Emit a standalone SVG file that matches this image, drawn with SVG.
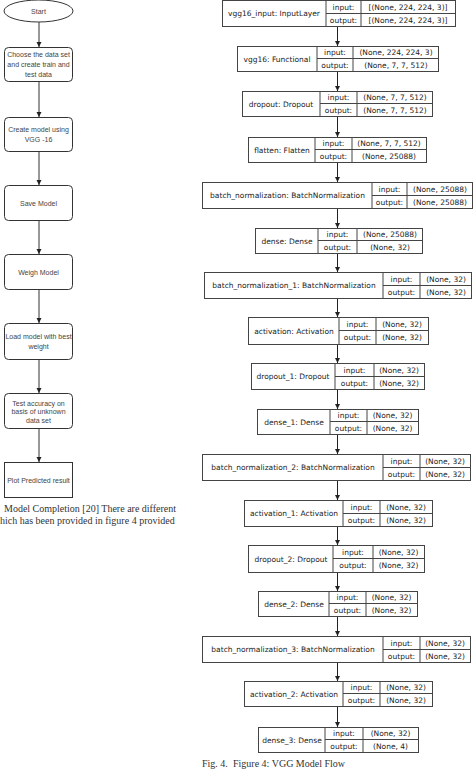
<svg xmlns="http://www.w3.org/2000/svg" width="474" height="770" viewBox="0 0 474 770">
<style>
.fb{fill:#fff;stroke:#333;stroke-width:1}
.ft{font-family:"Liberation Sans",Arial,sans-serif;font-size:7px;fill:#444;text-anchor:middle}
.kb{fill:#fff;stroke:#444;stroke-width:1}
.kl{stroke:#444;stroke-width:1}
.kt{font-family:"DejaVu Sans",sans-serif;font-size:7.5px;fill:#222;text-anchor:middle}
.c{stroke:#333;stroke-width:1;fill:none}
.ck{stroke:#222;stroke-width:1;fill:none}
.serif{font-family:"Liberation Serif","Times New Roman",serif;font-size:10px;fill:#333}
</style>
<defs>
<marker id="ah" markerUnits="userSpaceOnUse" markerWidth="6" markerHeight="6" refX="5" refY="3" orient="auto"><path d="M0,0.5 L5,3 L0,5.5 z" fill="#222"/></marker>
</defs>
<rect width="474" height="770" fill="#fff"/>
<g id="connectors">
<line class="c" x1="39" y1="22" x2="39" y2="47" marker-end="url(#ah)"/>
<line class="c" x1="39" y1="81" x2="39" y2="117" marker-end="url(#ah)"/>
<line class="c" x1="39" y1="151" x2="39" y2="185" marker-end="url(#ah)"/>
<line class="c" x1="39" y1="220" x2="39" y2="254" marker-end="url(#ah)"/>
<line class="c" x1="39" y1="289" x2="39" y2="323" marker-end="url(#ah)"/>
<line class="c" x1="39" y1="359" x2="39" y2="393" marker-end="url(#ah)"/>
<line class="c" x1="39" y1="428" x2="39" y2="462" marker-end="url(#ah)"/>
<line class="ck" x1="337.5" y1="26" x2="337.5" y2="46" marker-end="url(#ah)"/>
<line class="ck" x1="337.5" y1="71" x2="337.5" y2="91" marker-end="url(#ah)"/>
<line class="ck" x1="337.5" y1="116" x2="337.5" y2="137" marker-end="url(#ah)"/>
<line class="ck" x1="337.5" y1="162" x2="337.5" y2="182" marker-end="url(#ah)"/>
<line class="ck" x1="337.5" y1="208" x2="337.5" y2="228" marker-end="url(#ah)"/>
<line class="ck" x1="337.5" y1="253" x2="337.5" y2="272" marker-end="url(#ah)"/>
<line class="ck" x1="337.5" y1="298" x2="337.5" y2="317" marker-end="url(#ah)"/>
<line class="ck" x1="337.5" y1="344" x2="337.5" y2="363" marker-end="url(#ah)"/>
<line class="ck" x1="337.5" y1="389" x2="337.5" y2="409" marker-end="url(#ah)"/>
<line class="ck" x1="337.5" y1="434" x2="337.5" y2="454" marker-end="url(#ah)"/>
<line class="ck" x1="337.5" y1="480" x2="337.5" y2="500" marker-end="url(#ah)"/>
<line class="ck" x1="337.5" y1="526" x2="337.5" y2="545" marker-end="url(#ah)"/>
<line class="ck" x1="337.5" y1="572" x2="337.5" y2="591" marker-end="url(#ah)"/>
<line class="ck" x1="337.5" y1="616" x2="337.5" y2="636" marker-end="url(#ah)"/>
<line class="ck" x1="337.5" y1="662" x2="337.5" y2="681" marker-end="url(#ah)"/>
<line class="ck" x1="337.5" y1="706" x2="337.5" y2="727" marker-end="url(#ah)"/>
</g>
<g id="f-start"><ellipse class="fb" cx="38.5" cy="11" rx="34.5" ry="11"/><text class="ft" x="38.5" y="13.5">Start</text></g>
<g id="f-choose"><rect class="fb" x="4.5" y="47.5" width="68" height="34" rx="4"/><text class="ft" x="38.5" y="56.5">Choose the data set</text><text class="ft" x="38.5" y="66.5">and create train and</text><text class="ft" x="38.5" y="76.5">test data</text></g>
<g id="f-create"><rect class="fb" x="4.5" y="117.5" width="68" height="34" rx="4"/><text class="ft" x="38.5" y="131.5">Create model using</text><text class="ft" x="38.5" y="141.5">VGG -16</text></g>
<g id="f-save"><rect class="fb" x="4.5" y="185.5" width="68" height="35" rx="4"/><text class="ft" x="38.5" y="205.5">Save Model</text></g>
<g id="f-weigh"><rect class="fb" x="4.5" y="254.5" width="68" height="35" rx="4"/><text class="ft" x="38.5" y="274.5">Weigh Model</text></g>
<g id="f-load"><rect class="fb" x="4.5" y="323.5" width="68" height="36" rx="4"/><text class="ft" x="38.5" y="338.5">Load model with best</text><text class="ft" x="38.5" y="348.5">weight</text></g>
<g id="f-test"><rect class="fb" x="4.5" y="393.5" width="68" height="35" rx="4"/><text class="ft" x="38.5" y="405.5">Test accuracy on</text><text class="ft" x="38.5" y="414">basis of unknown</text><text class="ft" x="38.5" y="422.5">data set</text></g>
<g id="f-plot"><rect class="fb" x="4.5" y="462.5" width="68" height="35"/><text class="ft" x="38.5" y="482.5">Plot Predicted result</text></g>
<text class="serif" x="4" y="512">Model Completion [20] There are different</text>
<text class="serif" x="0" y="524">hich has been provided in figure 4 provided</text>

<g id="k1"><rect class="kb" x="222.5" y="0.5" width="233" height="26"/><line class="kl" x1="326" y1="0.5" x2="326" y2="26.5"/><line class="kl" x1="361" y1="0.5" x2="361" y2="26.5"/><line class="kl" x1="326" y1="13.5" x2="455.5" y2="13.5"/><text class="kt" x="274" y="16">vgg16_input: InputLayer</text><text class="kt" x="343.5" y="9.5">input:</text><text class="kt" x="343.5" y="22.5">output:</text><text class="kt" x="408" y="9.5">[(None, 224, 224, 3)]</text><text class="kt" x="408" y="22.5">[(None, 224, 224, 3)]</text></g>
<g id="k2"><rect class="kb" x="237.5" y="46.5" width="201" height="25"/><line class="kl" x1="317" y1="46.5" x2="317" y2="71.5"/><line class="kl" x1="353" y1="46.5" x2="353" y2="71.5"/><line class="kl" x1="317" y1="58.5" x2="438.5" y2="58.5"/><text class="kt" x="277" y="61.5">vgg16: Functional</text><text class="kt" x="335" y="55">input:</text><text class="kt" x="335" y="67.5">output:</text><text class="kt" x="396" y="55">(None, 224, 224, 3)</text><text class="kt" x="396" y="67.5">(None, 7, 7, 512)</text></g>
<g id="k3"><rect class="kb" x="242.5" y="91.5" width="190" height="25"/><line class="kl" x1="320" y1="91.5" x2="320" y2="116.5"/><line class="kl" x1="357" y1="91.5" x2="357" y2="116.5"/><line class="kl" x1="320" y1="103.5" x2="432.5" y2="103.5"/><text class="kt" x="281" y="106.5">dropout: Dropout</text><text class="kt" x="338.5" y="100">input:</text><text class="kt" x="338.5" y="112.5">output:</text><text class="kt" x="395" y="100">(None, 7, 7, 512)</text><text class="kt" x="395" y="112.5">(None, 7, 7, 512)</text></g>
<g id="k4"><rect class="kb" x="248.5" y="137.5" width="178" height="25"/><line class="kl" x1="315" y1="137.5" x2="315" y2="162.5"/><line class="kl" x1="352" y1="137.5" x2="352" y2="162.5"/><line class="kl" x1="315" y1="149.5" x2="426.5" y2="149.5"/><text class="kt" x="282" y="152.5">flatten: Flatten</text><text class="kt" x="333.5" y="146">input:</text><text class="kt" x="333.5" y="158.5">output:</text><text class="kt" x="389" y="146">(None, 7, 7, 512)</text><text class="kt" x="389" y="158.5">(None, 25088)</text></g>
<g id="k5"><rect class="kb" x="202.5" y="182.5" width="270" height="26"/><line class="kl" x1="372" y1="182.5" x2="372" y2="208.5"/><line class="kl" x1="407" y1="182.5" x2="407" y2="208.5"/><line class="kl" x1="372" y1="195.5" x2="472.5" y2="195.5"/><text class="kt" x="287.5" y="198">batch_normalization: BatchNormalization</text><text class="kt" x="389.5" y="191.5">input:</text><text class="kt" x="389.5" y="204.5">output:</text><text class="kt" x="440" y="191.5">(None, 25088)</text><text class="kt" x="440" y="204.5">(None, 25088)</text></g>
<g id="k6"><rect class="kb" x="255.5" y="228.5" width="167" height="25"/><line class="kl" x1="318" y1="228.5" x2="318" y2="253.5"/><line class="kl" x1="357" y1="228.5" x2="357" y2="253.5"/><line class="kl" x1="318" y1="240.5" x2="422.5" y2="240.5"/><text class="kt" x="287" y="243.5">dense: Dense</text><text class="kt" x="337.5" y="237">input:</text><text class="kt" x="337.5" y="249.5">output:</text><text class="kt" x="390" y="237">(None, 25088)</text><text class="kt" x="390" y="249.5">(None, 32)</text></g>
<g id="k7"><rect class="kb" x="204.5" y="272.5" width="267" height="26"/><line class="kl" x1="383" y1="272.5" x2="383" y2="298.5"/><line class="kl" x1="420" y1="272.5" x2="420" y2="298.5"/><line class="kl" x1="383" y1="285.5" x2="471.5" y2="285.5"/><text class="kt" x="294" y="288">batch_normalization_1: BatchNormalization</text><text class="kt" x="401.5" y="281.5">input:</text><text class="kt" x="401.5" y="294.5">output:</text><text class="kt" x="446" y="281.5">(None, 32)</text><text class="kt" x="446" y="294.5">(None, 32)</text></g>
<g id="k8"><rect class="kb" x="248.5" y="317.5" width="180" height="27"/><line class="kl" x1="339" y1="317.5" x2="339" y2="344.5"/><line class="kl" x1="376" y1="317.5" x2="376" y2="344.5"/><line class="kl" x1="339" y1="330.5" x2="428.5" y2="330.5"/><text class="kt" x="294" y="333.5">activation: Activation</text><text class="kt" x="357.5" y="326.5">input:</text><text class="kt" x="357.5" y="340">output:</text><text class="kt" x="402" y="326.5">(None, 32)</text><text class="kt" x="402" y="340">(None, 32)</text></g>
<g id="k9"><rect class="kb" x="251.5" y="363.5" width="173" height="26"/><line class="kl" x1="335" y1="363.5" x2="335" y2="389.5"/><line class="kl" x1="374" y1="363.5" x2="374" y2="389.5"/><line class="kl" x1="335" y1="376.5" x2="424.5" y2="376.5"/><text class="kt" x="293" y="379">dropout_1: Dropout</text><text class="kt" x="354.5" y="372.5">input:</text><text class="kt" x="354.5" y="385.5">output:</text><text class="kt" x="399" y="372.5">(None, 32)</text><text class="kt" x="399" y="385.5">(None, 32)</text></g>
<g id="k10"><rect class="kb" x="257.5" y="409.5" width="161" height="25"/><line class="kl" x1="330" y1="409.5" x2="330" y2="434.5"/><line class="kl" x1="367" y1="409.5" x2="367" y2="434.5"/><line class="kl" x1="330" y1="421.5" x2="418.5" y2="421.5"/><text class="kt" x="294" y="424.5">dense_1: Dense</text><text class="kt" x="348.5" y="418">input:</text><text class="kt" x="348.5" y="430.5">output:</text><text class="kt" x="392.5" y="418">(None, 32)</text><text class="kt" x="392.5" y="430.5">(None, 32)</text></g>
<g id="k11"><rect class="kb" x="202.5" y="454.5" width="268" height="26"/><line class="kl" x1="383" y1="454.5" x2="383" y2="480.5"/><line class="kl" x1="420" y1="454.5" x2="420" y2="480.5"/><line class="kl" x1="383" y1="467.5" x2="470.5" y2="467.5"/><text class="kt" x="293" y="470">batch_normalization_2: BatchNormalization</text><text class="kt" x="401.5" y="463.5">input:</text><text class="kt" x="401.5" y="476.5">output:</text><text class="kt" x="445" y="463.5">(None, 32)</text><text class="kt" x="445" y="476.5">(None, 32)</text></g>
<g id="k12"><rect class="kb" x="244.5" y="500.5" width="188" height="26"/><line class="kl" x1="343" y1="500.5" x2="343" y2="526.5"/><line class="kl" x1="380" y1="500.5" x2="380" y2="526.5"/><line class="kl" x1="343" y1="513.5" x2="432.5" y2="513.5"/><text class="kt" x="294" y="516">activation_1: Activation</text><text class="kt" x="361.5" y="509.5">input:</text><text class="kt" x="361.5" y="522.5">output:</text><text class="kt" x="406" y="509.5">(None, 32)</text><text class="kt" x="406" y="522.5">(None, 32)</text></g>
<g id="k13"><rect class="kb" x="248.5" y="545.5" width="176" height="27"/><line class="kl" x1="333" y1="545.5" x2="333" y2="572.5"/><line class="kl" x1="373" y1="545.5" x2="373" y2="572.5"/><line class="kl" x1="333" y1="558.5" x2="424.5" y2="558.5"/><text class="kt" x="291" y="561.5">dropout_2: Dropout</text><text class="kt" x="353" y="554.5">input:</text><text class="kt" x="353" y="568">output:</text><text class="kt" x="398.5" y="554.5">(None, 32)</text><text class="kt" x="398.5" y="568">(None, 32)</text></g>
<g id="k14"><rect class="kb" x="258.5" y="591.5" width="159" height="25"/><line class="kl" x1="329" y1="591.5" x2="329" y2="616.5"/><line class="kl" x1="366" y1="591.5" x2="366" y2="616.5"/><line class="kl" x1="329" y1="603.5" x2="417.5" y2="603.5"/><text class="kt" x="294" y="606.5">dense_2: Dense</text><text class="kt" x="347.5" y="600">input:</text><text class="kt" x="347.5" y="612.5">output:</text><text class="kt" x="391.5" y="600">(None, 32)</text><text class="kt" x="391.5" y="612.5">(None, 32)</text></g>
<g id="k15"><rect class="kb" x="202.5" y="636.5" width="268" height="26"/><line class="kl" x1="383" y1="636.5" x2="383" y2="662.5"/><line class="kl" x1="420" y1="636.5" x2="420" y2="662.5"/><line class="kl" x1="383" y1="649.5" x2="470.5" y2="649.5"/><text class="kt" x="293" y="652">batch_normalization_3: BatchNormalization</text><text class="kt" x="401.5" y="645.5">input:</text><text class="kt" x="401.5" y="658.5">output:</text><text class="kt" x="445" y="645.5">(None, 32)</text><text class="kt" x="445" y="658.5">(None, 32)</text></g>
<g id="k16"><rect class="kb" x="244.5" y="681.5" width="188" height="25"/><line class="kl" x1="343" y1="681.5" x2="343" y2="706.5"/><line class="kl" x1="380" y1="681.5" x2="380" y2="706.5"/><line class="kl" x1="343" y1="693.5" x2="432.5" y2="693.5"/><text class="kt" x="294" y="696.5">activation_2: Activation</text><text class="kt" x="361.5" y="690">input:</text><text class="kt" x="361.5" y="702.5">output:</text><text class="kt" x="406" y="690">(None, 32)</text><text class="kt" x="406" y="702.5">(None, 32)</text></g>
<g id="k17"><rect class="kb" x="258.5" y="727.5" width="160" height="25"/><line class="kl" x1="325" y1="727.5" x2="325" y2="752.5"/><line class="kl" x1="363" y1="727.5" x2="363" y2="752.5"/><line class="kl" x1="325" y1="739.5" x2="418.5" y2="739.5"/><text class="kt" x="292" y="742.5">dense_3: Dense</text><text class="kt" x="344" y="736">input:</text><text class="kt" x="344" y="748.5">output:</text><text class="kt" x="390.5" y="736">(None, 32)</text><text class="kt" x="390.5" y="748.5">(None, 4)</text></g>
<text class="serif" x="202" y="767">Fig. 4.</text>
<text class="serif" x="233" y="767">Figure 4: VGG Model Flow</text>
</svg>
